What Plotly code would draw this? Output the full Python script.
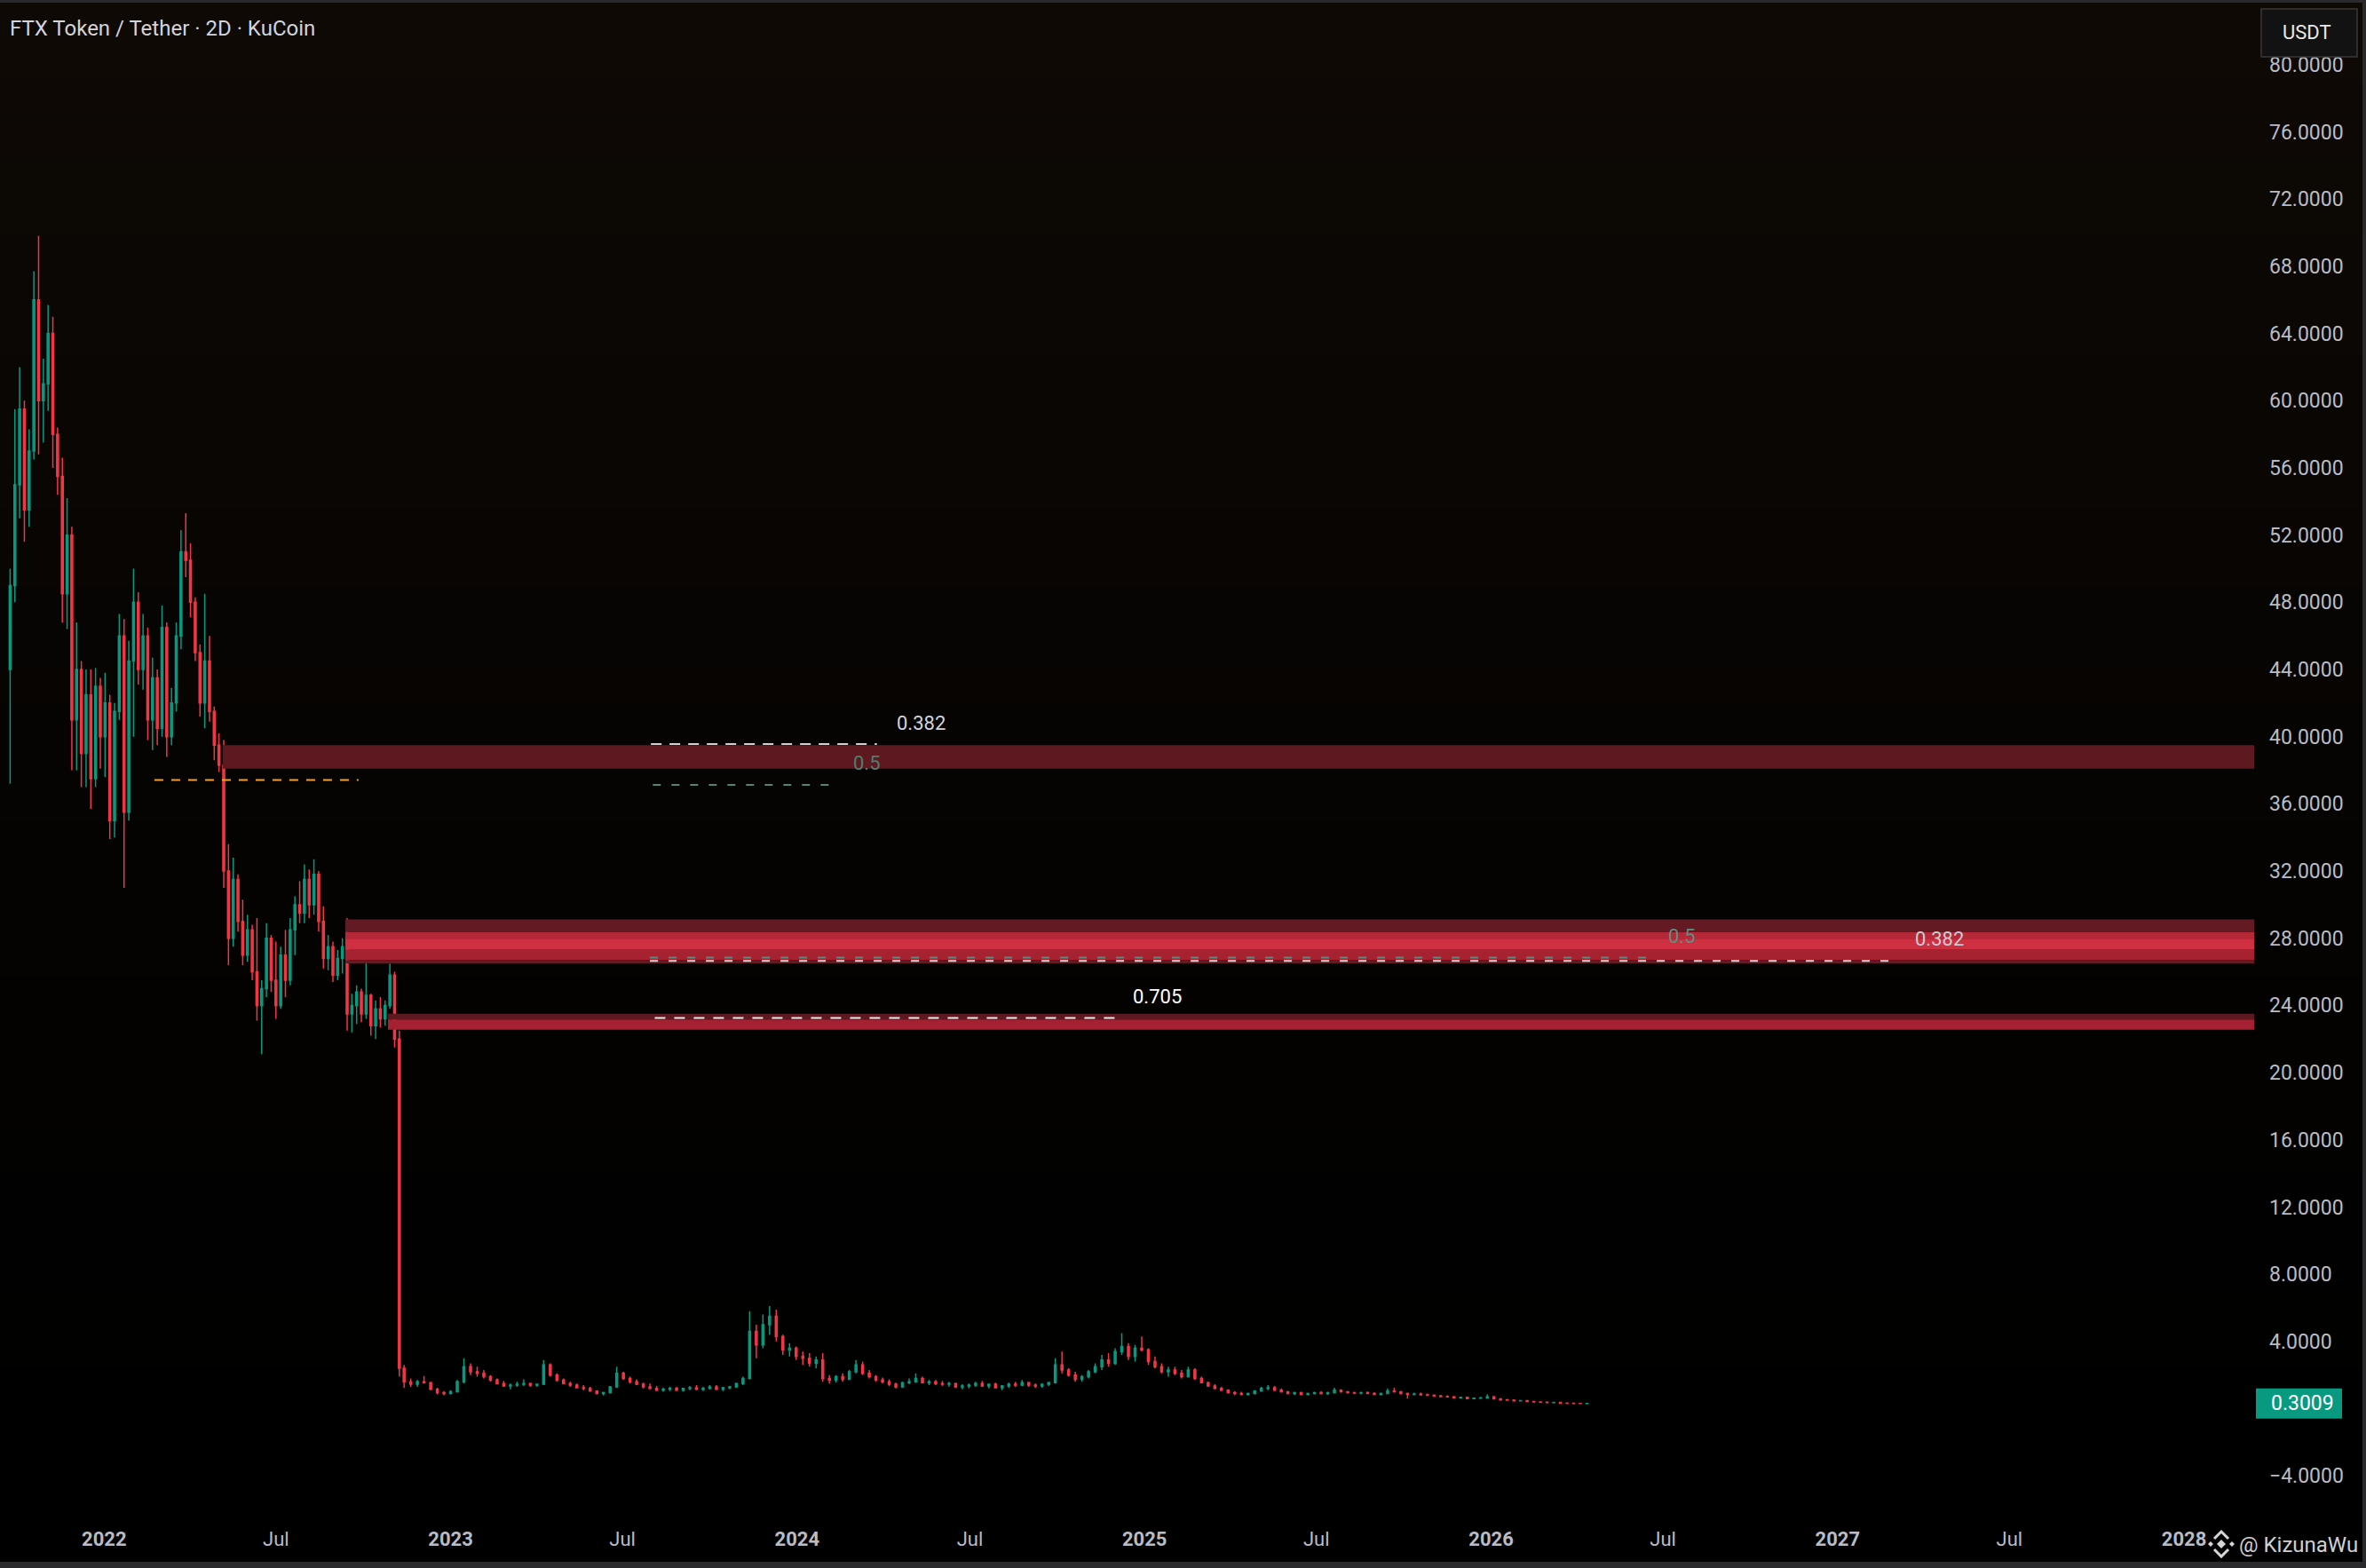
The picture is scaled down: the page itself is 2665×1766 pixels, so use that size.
import pandas as pd
import plotly.graph_objects as go

# ---- candles: 5-day bars up to the FTX collapse, weekly bars afterwards ----
dates_early = pd.date_range("2021-09-24", periods=83, freq="5D")
open_early = [44, 49, 55, 59.5, 53.5, 57, 66, 60, 61, 64,
              58, 55.5, 48.5, 52, 41, 44, 39, 42.5, 37.5, 43,
              40, 42, 35, 41.5, 46, 35.5, 44.5, 48, 44, 46,
              41, 43.5, 40.5, 46.5, 40, 42, 46, 51, 50.5, 48,
              45, 42, 44.5, 41.5, 39.5, 38.3, 32, 28, 31.5, 29,
              27, 28.5, 26, 24, 25, 28, 25.5, 24, 27, 25.5,
              28.5, 30, 29.5, 31.5, 30, 31.8, 29, 26.8, 27.5, 25.8,
              26.8, 27.5, 23.5, 24, 24.8, 23.5, 24.6, 22.8, 23.8, 23.2,
              24, 25.8, 22]
high_early = [50, 59.5, 62, 60, 58.3, 67.7, 69.8, 62.5, 65.7, 65,
              58.4, 56.6, 54.2, 52.5, 46.8, 44.5, 44, 44, 44.1, 43.5,
              43.8, 42.5, 42, 47.3, 47, 45.7, 50, 48.6, 47.3, 46.5,
              44.7, 44, 47.8, 46.8, 42.9, 46.8, 52.3, 53.3, 51.5, 48.3,
              45.5, 48.5, 46, 41.8, 40.2, 39.8, 33.6, 32.8, 31.8, 30.3,
              29.4, 28.8, 29.2, 25.5, 28.9, 28.2, 27.8, 27.5, 28.5, 29.2,
              30.5, 31.4, 32.4, 32.1, 32.7, 32, 29.9, 28.2, 27.8, 27.3,
              28, 29.2, 24.7, 25.2, 25, 26.6, 24.7, 24.3, 24.5, 24.3,
              26.5, 26, 22.5]
low_early = [37.2, 48, 53, 51.6, 52.5, 56.5, 56.8, 57.5, 59.4, 56,
             54.4, 46.8, 46.4, 38, 38, 37, 37, 35.7, 37, 38.1,
             37.6, 33.9, 34, 41, 31, 35, 40, 43.1, 42.8, 39.8,
             39.2, 39.5, 40, 38.8, 39.5, 41.5, 45.2, 49.5, 47.1, 44.5,
             41.2, 40.5, 40.9, 38.6, 37.9, 31, 26.4, 27.5, 28.4, 26.4,
             26.6, 25.5, 23.1, 21.1, 24.5, 24.8, 23.2, 23.8, 24.5, 25.2,
             27, 28.9, 28.9, 29.2, 29.4, 28.4, 26.2, 26.1, 25.4, 25.5,
             25.9, 22.5, 22.4, 22.9, 23, 23.2, 22.2, 22, 22.7, 22.8,
             23.8, 21.5, 1.9]
close_early = [49, 55, 59.5, 53.5, 57, 66, 60, 61, 64, 58,
               55.5, 48.5, 52, 41, 44, 39, 42.5, 37.5, 43, 40,
               42, 35, 41.5, 46, 35.5, 44.5, 48, 44, 46, 41,
               43.5, 40.5, 46.5, 40, 42, 46, 51, 50.5, 48, 45,
               42, 44.5, 41.5, 39.5, 38.3, 32, 28, 31.5, 29, 27,
               28.5, 26, 24, 25, 28, 25.5, 24, 27, 25.5, 28.5,
               30, 29.5, 31.5, 30, 31.8, 29, 26.8, 27.5, 25.8, 26.8,
               27.5, 23.5, 24, 24.8, 23.5, 24.6, 22.8, 23.8, 23.2, 24,
               25.8, 22, 2.4]

dates_late = pd.date_range("2022-11-13", periods=179, freq="7D")
open_late = [2.4, 1.6, 1.45, 1.6, 1.55, 1.15, 0.95, 0.9, 1.0, 1.6,
             2.5, 2.2, 2.1, 1.9, 1.7, 1.5, 1.35, 1.4, 1.45, 1.5,
             1.4, 1.45, 2.6, 2.0, 1.7, 1.5, 1.4, 1.25, 1.2, 1.05,
             0.9, 0.95, 1.3, 2.1, 1.8, 1.6, 1.45, 1.3, 1.2, 1.1,
             1.15, 1.2, 1.1, 1.2, 1.25, 1.15, 1.2, 1.3, 1.15, 1.25,
             1.3, 1.5, 1.8, 4.6, 3.8, 5.0, 5.5, 4.3, 3.5, 3.6,
             3.1, 3.0, 2.7, 2.9, 1.8, 1.7, 1.9, 1.75, 2.2, 2.6,
             2.1, 1.9, 1.7, 1.6, 1.45, 1.3, 1.55, 1.6, 1.8, 1.55,
             1.6, 1.5, 1.45, 1.5, 1.3, 1.35, 1.4, 1.5, 1.35, 1.45,
             1.25, 1.35, 1.45, 1.4, 1.55, 1.4, 1.35, 1.45, 1.55, 2.6,
             2.3, 2.0, 1.75, 1.9, 2.2, 2.5, 2.9, 2.7, 3.4, 3.7,
             3.1, 3.6, 3.5, 2.8, 2.5, 2.2, 2.3, 2.1, 1.9, 2.3,
             1.8, 1.55, 1.35, 1.2, 1.1, 0.95, 0.9, 0.85, 0.9, 1.05,
             1.2, 1.25, 1.1, 1.0, 0.9, 0.95, 0.85, 0.9, 0.95, 0.9,
             0.95, 1.1, 1.0, 0.95, 0.92, 0.95, 0.9, 0.85, 0.9, 1.05,
             1.0, 0.9, 0.85, 0.88, 0.82, 0.8, 0.75, 0.72, 0.7, 0.65,
             0.68, 0.6, 0.62, 0.64, 0.7, 0.58, 0.52, 0.5, 0.46, 0.48,
             0.42, 0.4, 0.38, 0.36, 0.37, 0.33, 0.32, 0.31, 0.3]
high_late = [2.6, 1.8, 1.7, 1.95, 1.6, 1.25, 1.05, 1.1, 1.7, 3.0,
             2.7, 2.5, 2.3, 2.0, 1.8, 1.65, 1.5, 1.6, 1.75, 1.55,
             1.5, 2.9, 2.7, 2.1, 1.8, 1.6, 1.5, 1.4, 1.3, 1.1,
             1.0, 1.35, 2.5, 2.2, 1.9, 1.75, 1.55, 1.5, 1.35, 1.25,
             1.3, 1.3, 1.25, 1.35, 1.4, 1.3, 1.4, 1.4, 1.3, 1.35,
             1.55, 1.9, 5.8, 5.0, 5.6, 6.1, 5.9, 4.4, 3.9, 3.7,
             3.4, 3.3, 3.1, 3.3, 2.0, 2.0, 2.1, 2.3, 2.9, 2.8,
             2.3, 2.0, 1.85, 1.75, 1.55, 1.6, 1.8, 2.1, 1.9, 1.7,
             1.7, 1.65, 1.6, 1.55, 1.45, 1.5, 1.6, 1.65, 1.5, 1.55,
             1.4, 1.55, 1.6, 1.7, 1.6, 1.5, 1.5, 1.6, 3.0, 3.4,
             2.4, 2.2, 2.0, 2.3, 2.7, 3.2, 3.3, 3.6, 4.5, 3.9,
             3.8, 4.3, 3.6, 3.1, 2.7, 2.5, 2.5, 2.3, 2.5, 2.4,
             1.9, 1.6, 1.45, 1.3, 1.15, 1.05, 1.0, 0.95, 1.1, 1.3,
             1.4, 1.35, 1.2, 1.05, 1.0, 1.0, 0.95, 1.0, 1.05, 1.0,
             1.25, 1.15, 1.05, 1.0, 1.0, 1.02, 0.98, 0.95, 1.2, 1.25,
             1.05, 0.95, 0.95, 0.95, 0.9, 0.85, 0.82, 0.8, 0.75, 0.72,
             0.72, 0.66, 0.7, 0.85, 0.75, 0.62, 0.58, 0.55, 0.52, 0.5,
             0.46, 0.44, 0.42, 0.4, 0.39, 0.36, 0.35, 0.34, 0.33]
low_late = [1.25, 1.3, 1.3, 1.5, 1.1, 0.85, 0.8, 0.85, 0.95, 1.5,
            2.0, 1.9, 1.8, 1.6, 1.45, 1.3, 1.15, 1.3, 1.35, 1.3,
            1.3, 1.4, 1.9, 1.6, 1.45, 1.3, 1.2, 1.1, 1.0, 0.85,
            0.78, 0.9, 1.25, 1.7, 1.5, 1.4, 1.2, 1.15, 1.05, 1.0,
            1.05, 1.05, 1.0, 1.1, 1.1, 1.05, 1.15, 1.1, 1.05, 1.15,
            1.25, 1.4, 1.75, 3.0, 3.6, 4.4, 4.0, 3.2, 3.1, 2.9,
            2.6, 2.5, 2.4, 1.6, 1.5, 1.55, 1.6, 1.7, 2.1, 2.0,
            1.8, 1.6, 1.5, 1.35, 1.2, 1.25, 1.45, 1.55, 1.5, 1.4,
            1.4, 1.35, 1.3, 1.25, 1.15, 1.2, 1.3, 1.3, 1.2, 1.2,
            1.1, 1.25, 1.3, 1.35, 1.3, 1.25, 1.25, 1.35, 1.5, 2.1,
            1.9, 1.6, 1.6, 1.8, 2.1, 2.3, 2.5, 2.6, 3.2, 2.9,
            2.8, 3.4, 2.6, 2.4, 2.1, 1.9, 2.0, 1.8, 1.85, 1.7,
            1.5, 1.3, 1.15, 1.05, 0.9, 0.82, 0.8, 0.78, 0.85, 1.0,
            1.1, 1.05, 0.95, 0.85, 0.82, 0.8, 0.8, 0.85, 0.85, 0.82,
            0.9, 0.95, 0.9, 0.88, 0.85, 0.88, 0.82, 0.8, 0.88, 0.95,
            0.85, 0.6, 0.8, 0.78, 0.75, 0.72, 0.68, 0.66, 0.62, 0.6,
            0.58, 0.55, 0.58, 0.6, 0.55, 0.5, 0.47, 0.44, 0.42, 0.4,
            0.37, 0.35, 0.34, 0.32, 0.31, 0.3, 0.29, 0.28, 0.29]
close_late = [1.6, 1.45, 1.6, 1.55, 1.15, 0.95, 0.9, 1.0, 1.6, 2.5,
              2.2, 2.1, 1.9, 1.7, 1.5, 1.35, 1.4, 1.45, 1.5, 1.4,
              1.45, 2.6, 2.0, 1.7, 1.5, 1.4, 1.25, 1.2, 1.05, 0.9,
              0.95, 1.3, 2.1, 1.8, 1.6, 1.45, 1.3, 1.2, 1.1, 1.15,
              1.2, 1.1, 1.2, 1.25, 1.15, 1.2, 1.3, 1.15, 1.25, 1.3,
              1.5, 1.8, 4.6, 3.8, 5.0, 5.5, 4.3, 3.5, 3.6, 3.1,
              3.0, 2.7, 2.9, 1.8, 1.7, 1.9, 1.75, 2.2, 2.6, 2.1,
              1.9, 1.7, 1.6, 1.45, 1.3, 1.55, 1.6, 1.8, 1.55, 1.6,
              1.5, 1.45, 1.5, 1.3, 1.35, 1.4, 1.5, 1.35, 1.45, 1.25,
              1.35, 1.45, 1.4, 1.55, 1.4, 1.35, 1.45, 1.55, 2.6, 2.3,
              2.0, 1.75, 1.9, 2.2, 2.5, 2.9, 2.7, 3.4, 3.7, 3.1,
              3.6, 3.5, 2.8, 2.5, 2.2, 2.3, 2.1, 1.9, 2.3, 1.8,
              1.55, 1.35, 1.2, 1.1, 0.95, 0.9, 0.85, 0.9, 1.05, 1.2,
              1.25, 1.1, 1.0, 0.9, 0.95, 0.85, 0.9, 0.95, 0.9, 0.95,
              1.1, 1.0, 0.95, 0.92, 0.95, 0.9, 0.85, 0.9, 1.05, 1.0,
              0.9, 0.85, 0.88, 0.82, 0.8, 0.75, 0.72, 0.7, 0.65, 0.68,
              0.6, 0.62, 0.64, 0.7, 0.58, 0.52, 0.5, 0.46, 0.48, 0.42,
              0.4, 0.38, 0.36, 0.37, 0.33, 0.32, 0.31, 0.3, 0.3009]
last_price = 0.3009

# ---- drawn zones (layered bands) ----
band_start = ["2022-05-06", "2022-09-12", "2022-09-12", "2022-09-12", "2022-09-12",
              "2022-09-12", "2022-10-27", "2022-10-27"]
band_low = [38.1, 28.37, 27.94, 27.31, 26.69, 26.51, 23.17, 22.55]
band_high = [39.5, 29.12, 28.37, 27.94, 27.31, 26.69, 23.51, 23.17]
band_color = ["#5e1820", "#641a22", "#b42838", "#cf3041", "#a62231", "#641a22",
              "#5e1820", "#a52131"]

# ---- dashed fib levels ----
level_value = [37.42, 39.56, 37.13, 26.85, 26.65, 23.25]
level_start = ["2022-02-23", "2023-07-31", "2023-08-02", "2023-07-30", "2023-07-30", "2023-08-04"]
level_end = ["2022-09-26", "2024-03-25", "2024-02-14", "2026-06-22", "2027-02-25", "2024-12-01"]
level_color = ["#f0a028", "#d0d0d0", "#4e8577", "#5a8a7e", "#d4d4d4", "#e8e8e8"]
level_dash = ["10px,9px", "12px,9px", "9px,12px", "9px,12px", "9px,12px", "12px,10px"]

label_text = ["0.382", "0.5", "0.5", "0.382", "0.705"]
label_date = ["2024-05-11", "2024-03-15", "2026-07-21", "2027-04-18", "2025-01-14"]
label_value = [40.83, 38.45, 28.1, 27.94, 24.55]
label_color = ["#d1d4dc", "#4e7f71", "#5f8c80", "#c9ccd4", "#ffffff"]

# ---- axes ----
x_tick_vals = ["2022-01-01", "2022-07-01", "2023-01-01", "2023-07-01", "2024-01-01",
               "2024-07-01", "2025-01-01", "2025-07-01", "2026-01-01", "2026-07-01",
               "2027-01-01", "2027-07-01", "2028-01-01"]
x_tick_text = ["<b>2022</b>", "Jul", "<b>2023</b>", "Jul", "<b>2024</b>", "Jul",
               "<b>2025</b>", "Jul", "<b>2026</b>", "Jul", "<b>2027</b>", "Jul", "<b>2028</b>"]
y_tick_vals = [-4, 4, 8, 12, 16, 20, 24, 28, 32, 36, 40, 44, 48, 52, 56, 60, 64, 68, 72, 76, 80]

UP = "#089981"
DOWN = "#f23645"
FONT = "Roboto"

# page geometry (pixels) -> paper coordinates
W, H = 2665, 1766
PLOT_L, PLOT_R, PLOT_T, PLOT_B = 0, 2539, 4, 1708


def px(x):
    return (x - PLOT_L) / (PLOT_R - PLOT_L)


def py(y):
    return (PLOT_B - y) / (PLOT_B - PLOT_T)


def poly(points):
    # svg path in paper coordinates from pixel points
    return "M" + " L".join("%.5f,%.5f" % (px(a), py(b)) for a, b in points)


fig = go.Figure()
fig.add_trace(go.Candlestick(
    x=list(dates_early) + list(dates_late),
    open=open_early + open_late,
    high=high_early + high_late,
    low=low_early + low_late,
    close=close_early + close_late,
    increasing=dict(line=dict(color=UP, width=1.5), fillcolor=UP),
    decreasing=dict(line=dict(color=DOWN, width=1.5), fillcolor=DOWN),
    whiskerwidth=0,
    hoverinfo="skip",
    showlegend=False,
))

shapes = []
# dark brown -> black vertical gradient behind everything
n_bands = 40
top_rgb = (14, 9, 5)
for k in range(n_bands):
    t = k / (n_bands - 1)
    c = [round(v * (1 - t) ** 1.3) for v in top_rgb]
    y0 = 3 + k * 1756 / n_bands
    y1 = y0 + 1756 / n_bands + 1
    shapes.append(dict(type="rect", xref="paper", yref="paper", x0=px(0), x1=px(W),
                       y0=py(y1), y1=py(y0), fillcolor="rgb(%d,%d,%d)" % tuple(c),
                       line_width=0, layer="below"))

for s, lo, hi, col in zip(band_start, band_low, band_high, band_color):
    shapes.append(dict(type="rect", xref="x", yref="y", x0=s, x1="2029-01-01",
                       y0=lo, y1=hi, fillcolor=col, line_width=0, layer="above"))

for v, s, e, col, d in zip(level_value, level_start, level_end, level_color, level_dash):
    shapes.append(dict(type="line", xref="x", yref="y", x0=s, x1=e, y0=v, y1=v,
                       line=dict(color=col, width=2, dash=d), layer="above"))

# last price tag
shapes.append(dict(type="rect", xref="paper", yref="y", x0=px(2541), x1=px(2638),
                   y0=last_price - 0.9, y1=last_price + 0.9, fillcolor=UP,
                   line_width=0, layer="above"))
# currency box
shapes.append(dict(type="rect", xref="paper", yref="paper", x0=px(2547), x1=px(2655),
                   y0=py(64), y1=py(10), fillcolor="#121212",
                   line=dict(color="#383838", width=1.5), layer="above"))
# window frame
frame = "#2a2a2c"
shapes.append(dict(type="rect", xref="paper", yref="paper", x0=px(0), x1=px(W),
                   y0=py(3), y1=py(0), fillcolor=frame, line_width=0, layer="above"))
shapes.append(dict(type="rect", xref="paper", yref="paper", x0=px(0), x1=px(W),
                   y0=py(H), y1=py(1759), fillcolor=frame, line_width=0, layer="above"))
shapes.append(dict(type="rect", xref="paper", yref="paper", x0=px(2661), x1=px(W),
                   y0=py(H), y1=py(0), fillcolor=frame, line_width=0, layer="above"))

# small exchange logo next to the watermark
icon = "#d6d6d6"
cx, cy = 2502, 1739
for dx, r in [(0, 5), (-12, 3), (12, 3)]:
    shapes.append(dict(type="path", xref="paper", yref="paper", layer="above",
                       path=poly([(cx + dx - r, cy), (cx + dx, cy - r), (cx + dx + r, cy),
                                  (cx + dx, cy + r)]) + " Z",
                       fillcolor=icon, line_width=0))
for sgn in (-1, 1):
    shapes.append(dict(type="path", xref="paper", yref="paper", layer="above",
                       path=poly([(cx - 8, cy + sgn * 6), (cx, cy + sgn * 14),
                                  (cx + 8, cy + sgn * 6)]),
                       line=dict(color=icon, width=3)))

annotations = []
for txt, d, v, col in zip(label_text, label_date, label_value, label_color):
    annotations.append(dict(text=txt, x=d, y=v, xref="x", yref="y", showarrow=False,
                            xanchor="center", yanchor="middle",
                            font=dict(family=FONT, size=22, color=col)))

annotations += [
    dict(text="FTX Token / Tether · 2D · KuCoin", x=px(9), y=py(32), xref="paper",
         yref="paper", xanchor="left", yanchor="middle", showarrow=False,
         font=dict(family=FONT, size=24, color="#d1d4dc")),
    dict(text="USDT", x=px(2598), y=py(36), xref="paper", yref="paper",
         xanchor="center", yanchor="middle", showarrow=False,
         font=dict(family=FONT, size=22, color="#e8e8e8")),
    dict(text="0.3009", x=px(2556), y=last_price, xref="paper", yref="y",
         xanchor="left", yanchor="middle", showarrow=False,
         font=dict(family=FONT, size=23, color="#ffffff")),
    dict(text="@ KizunaWu", x=px(2520), y=py(1740), xref="paper", yref="paper",
         xanchor="left", yanchor="middle", showarrow=False,
         font=dict(family=FONT, size=24, color="#d0d0d0")),
]

fig.update_layout(
    width=W,
    height=H,
    autosize=False,
    margin=dict(l=PLOT_L, r=W - PLOT_R, t=PLOT_T, b=H - PLOT_B, pad=0),
    paper_bgcolor="#000000",
    plot_bgcolor="#000000",
    font=dict(family=FONT, color="#b9bcc4"),
    boxgap=0.45,
    showlegend=False,
    hovermode=False,
    shapes=shapes,
    annotations=annotations,
    xaxis=dict(
        type="date",
        range=["2021-09-13 08:00", "2028-03-14 19:00"],
        tickvals=x_tick_vals,
        ticktext=x_tick_text,
        tickfont=dict(family=FONT, size=22, color="#b9bcc4"),
        ticks="",
        ticklabelstandoff=10,
        showgrid=False,
        zeroline=False,
        showline=False,
        rangeslider=dict(visible=False),
    ),
    yaxis=dict(
        side="right",
        range=[-6.42, 83.64],
        tickvals=y_tick_vals,
        tickformat=".4f",
        tickfont=dict(family=FONT, size=23, color="#b9bcc4"),
        ticks="",
        ticklabelstandoff=16,
        showgrid=False,
        zeroline=False,
        showline=False,
    ),
)

fig.write_html("out.html", config={"displayModeBar": False},
               post_script="document.body.style.margin='0';document.body.style.overflow='hidden';")
